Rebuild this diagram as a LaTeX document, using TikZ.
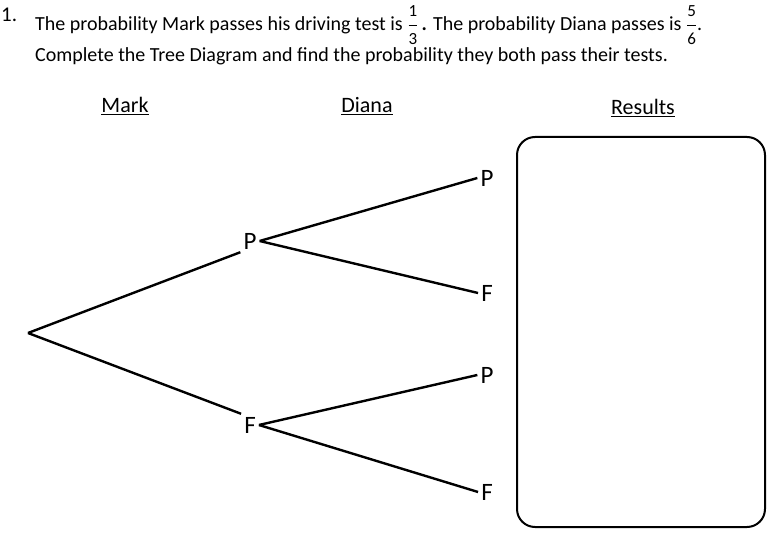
\documentclass[tikz,border=0pt]{standalone}
\usepackage{fontspec}
\setmainfont{Carlito}
\newcommand{\myfr}[2]{\smash{$\displaystyle\frac{\mbox{\fontsize{17}{18}\selectfont #1}}{\mbox{\fontsize{17}{18}\selectfont #2}}$}}
\begin{document}
\begin{tikzpicture}[x=1pt,y=-1pt,
  lab/.style={font=\fontsize{25}{28}\selectfont,inner sep=3pt},
  hd/.style={font=\fontsize{22}{26}\selectfont},
  br/.style={line width=2.4pt},
  txt/.style={font=\fontsize{20}{22}\selectfont,anchor=west,inner sep=0pt}]
\useasboundingbox (0,0) rectangle (780,540);
\node[anchor=west,inner sep=0pt,font=\fontsize{21}{24}\selectfont] (num) at (1,15) {1.};
\node[txt] (l1) at (35,25) {The probability Mark passes his driving test is \myfr{1}{3}\,\textbf{.} The probability Diana passes is \myfr{5}{6}.};
\node[txt] (l2) at (35,56) {Complete the Tree Diagram and find the probability they both pass their tests.};
\node[hd] (hm) at (125,106) {\underline{Mark}};
\node[hd] (hd) at (367,106) {\underline{Diana}};
\node[hd] (hr) at (643,108) {\underline{Results}};
\draw[line width=2pt,rounded corners=18pt] (517,137) rectangle (765,527);
\coordinate (root) at (28,333);
\node[lab] (P1) at (250,241) {P};
\node[lab] (F1) at (250,425) {F};
\node[lab] (PP) at (487,178) {P};
\node[lab] (PF) at (487,293) {F};
\node[lab] (FP) at (487,375) {P};
\node[lab] (FF) at (487,492) {F};
\draw[br] (root) -- (P1.south west);
\draw[br] (root) -- (F1.north west);
\draw[br] (P1.east) -- (PP.west);
\draw[br] (P1.east) -- (PF.west);
\draw[br] (F1.east) -- (FP.west);
\draw[br] (F1.east) -- (FF.west);
\end{tikzpicture}
\end{document}
